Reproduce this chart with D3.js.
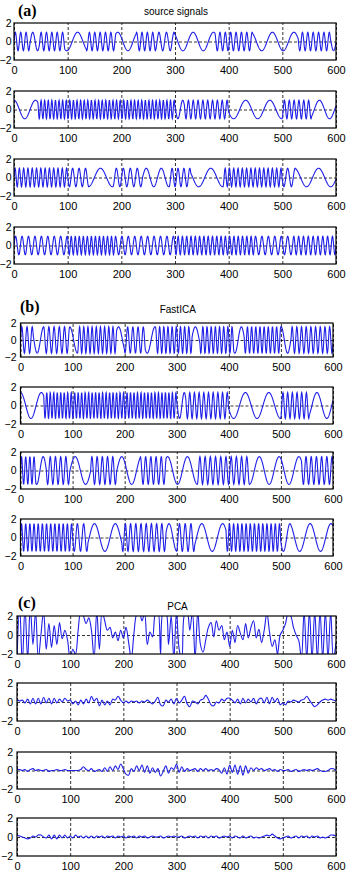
<!DOCTYPE html>
<html><head><meta charset="utf-8">
<script src="https://cdn.jsdelivr.net/npm/d3@7"></script>
<style>body{margin:0;background:#fff}</style>
</head><body>
<svg id="c" width="349" height="875"></svg>
<script>
// ---------- data ----------
const xTicks = [0,100,200,300,400,500,600];
const yTicks = [-2,0,2];
const panelLabels = ["(a)","(b)","(c)"];
const panelTitles = ["source signals","FastICA","PCA"];

// piecewise sinusoidal signals: [segment start, period]
const src1 = [[0,10],[30,18],[48,10],[95,40],[135,10],[190,38],[228,10],[265,14],[300,38],[375,10],[445,40],[530,10],[590,20]];
const src2 = [[0,40],[45,6.7],[300,18],[318,9],[400,45],[500,9],[555,38]];
const src3 = [[0,8],[100,12],[140,45],[185,13],[240,28],[290,11],[330,45],[390,8],[500,14],[525,45]];
const src4 = [[0,12],[100,7.5],[190,12],[300,8],[450,12],[520,9]];
const srcAmp = [1,1,1,1];
const srcPhase = [0,1.57,0,0];

const ica1 = [[0,10],[25,25],[45,10],[95,30],[110,8],[185,30],[200,10],[240,30],[260,8],[330,30],[345,8],[410,25],[430,8],[500,25],[520,9]];
const ica2 = [[0,40],[45,6.7],[300,18],[318,9],[400,45],[500,9],[555,38]];
const ica3 = [[0,8],[30,25],[50,10],[95,40],[135,10],[185,38],[230,10],[280,38],[340,10],[440,38],[540,10]];
const ica4 = [[0,8],[100,12],[130,40],[195,10],[280,30],[300,11],[335,40],[395,8],[500,25],[520,40]];
const icaAmp = [1.55,1.4,1.5,1.5];
const icaPhase = [0,1.57,0,0];

// PCA outputs, sampled every 5 samples (0..600)
const pcaStep = 5;
const pca1 = [-2.5,3,-3,3,-2.5,3,-1,2.5,-2.5,0,2.5,-1.5,1.2,-1.3,1,-1,1.3,-0.4,0.5,-0.5,
 -2.5,-1.5,-2,0.5,2.5,2,1.2,1.8,0.5,-2.5,2.5,-1.5,2.5,1.5,0.5,0.8,-0.3,0.3,-0.6,0.5,
 -0.3,0.8,-0.8,-2.5,0.2,2.2,2.5,1.5,2.3,-1,0.3,-0.2,2.2,2.5,-2,2.5,2.5,-1,2,-2.5,
 2.5,-1.5,-2.5,2.2,2.5,0.5,2.5,-2.5,2.5,-1,-1.8,-0.5,0.8,1.3,-0.2,1.5,0.5,1,-0.5,0.3,
 -1.2,0.5,-0.8,1,0.2,-0.5,1.2,-0.3,0.8,1.5,-0.3,0.6,-0.8,0.5,2.3,0.3,-1.2,-0.5,-2,0,
 0.5,1.2,2.3,2,0.8,0,-0.6,-2.5,2.5,-2.5,2.5,-2.5,2.5,-2.5,2.5,-2.5,2.5,-2.5,2.5,-2.5,-0.8];
const pca2 = [0.3,0.1,0.2,-0.1,0.3,-0.2,0.4,-0.2,0.4,-0.2,0.5,-0.1,0.4,-0.2,0.4,-0.1,0.3,0,0.4,0.1,
 0.2,-0.2,0.1,-0.3,0.2,-0.2,0.3,-0.1,0.6,0.1,0.4,-0.4,0.2,-0.3,0.1,-0.3,0.3,0.2,0.6,0.2,
 -0.1,0.1,-0.1,0.1,0,0.1,-0.1,0.1,0,0.2,0,-0.2,0.1,0.5,-0.3,-0.4,0.2,0,0.3,-0.2,
 0.4,-0.1,0.2,0.6,-0.2,-0.5,0.1,0,-0.2,0.2,0.3,0.7,0.3,-0.3,-0.4,0,-0.1,0.3,0.1,0.4,
 0.4,0.2,-0.1,0.3,-0.2,0.4,-0.1,0.3,0,0.4,-0.2,0.3,0.4,-0.1,0.5,-0.2,0.5,0,0.4,-0.3,
 -0.1,-0.3,0.1,0,0.2,0.1,0,0.2,0.3,0.6,0.2,-0.2,-0.5,-0.3,0,0.2,0.3,0.2,0.3,0.2,0.1];
const pca3 = [0.1,0.1,0,0.1,-0.1,0.1,0.2,0,0.1,0,0,0.1,-0.1,0,0,0.1,0,0,0.1,0,
 0,0,0,0,0.1,0.4,0.1,0,0.2,-0.1,0,0.1,-0.1,0.3,-0.1,0.4,0,0.5,0.1,0.7,
 0.2,-0.4,-0.5,0.2,-0.1,0.5,0,0.6,-0.2,0.5,-0.3,0.3,-0.2,0.2,-0.6,-0.1,0.5,-0.3,0.3,0.1,
 0.7,-0.2,0.4,-0.1,0.2,0,0.1,0.2,-0.1,0.2,0,0.2,0,0.1,0,0.2,0.1,-0.3,0.3,-0.4,
 0.6,-0.2,0.6,-0.4,0.5,-0.5,0.5,-0.3,0.3,0,0.3,0.1,0.2,0,0.1,0.2,0,0.1,-0.1,0.1,
 0,0,0.1,-0.1,0,0.1,-0.1,0,0.1,0,0.1,0,0.1,0.2,0,-0.1,-0.1,0,0.2,0.2,0];
const pca4 = [0.2,0.1,0,-0.1,-0.2,-0.1,0.1,0,0.2,0.2,0,-0.1,0.2,-0.2,0.2,-0.2,0.2,-0.1,0.2,-0.1,
 0.1,-0.1,0.2,0,0.1,-0.1,0.1,-0.1,0.1,-0.1,0.1,0,0.1,-0.1,0.1,0,0.1,-0.1,0.1,0,
 0.1,-0.1,0.1,0,0.1,-0.1,0.1,0,0.1,-0.1,0,0.1,0,0,0.1,-0.1,0,0.1,0,0.1,
 0,0,0.1,-0.1,0,0.1,0,0.1,-0.1,0.1,0,0.1,-0.1,0.1,0,0.1,-0.1,0,0.1,0,
 0.1,-0.1,0.1,0,-0.1,0.1,-0.1,0,0.1,-0.1,0,-0.1,0,0.1,0.2,0.1,0.3,0.1,-0.1,-0.2,
 -0.1,0,0.1,-0.1,0,0.1,-0.1,0.1,0,0.1,-0.1,0.1,0,0.1,-0.1,0,-0.1,0,0.2,0.2,0.1];

// ---------- build ----------
function sineSeries(segs, amp, ph0){
  const pts=[]; let ph=ph0, si=0;
  for(let i=0;i<=1200;i++){
    const t=i*0.5;
    while(si<segs.length-1 && t>=segs[si+1][0]) si++;
    if(i>0) ph += 2*Math.PI*0.5/segs[si][1];
    pts.push([t, amp*Math.sin(ph)]);
  }
  return pts;
}
function sampled(vals){ return vals.map((v,i)=>[i*pcaStep, v]); }

const series = [
  [src1,src2,src3,src4].map((s,i)=>({pts:sineSeries(s,srcAmp[i],srcPhase[i]), smooth:false})),
  [ica1,ica2,ica3,ica4].map((s,i)=>({pts:sineSeries(s,icaAmp[i],icaPhase[i]), smooth:false})),
  [pca1,pca2,pca3,pca4].map(v=>({pts:sampled(v), smooth:true}))
];

const layout = [
  {x0:14,  x1:336, tops:[23,91,159,227],  hs:[37,37,37,37], lx:18, ly:16,  ty:15, pad:2.5},
  {x0:20.5,x1:333, tops:[323,387,452,519],hs:[34,37,37,37], lx:20, ly:312, ty:313, pad:4},
  {x0:17,  x1:336, tops:[616,683,752,818],hs:[38,38,37,38], lx:18, ly:608, ty:610, pad:4}
];

const svg = d3.select("#c");
const FONT = "Liberation Sans, Arial, sans-serif";

layout.forEach((L,p)=>{
  const x = d3.scaleLinear().domain([0,600]).range([L.x0,L.x1]);
  svg.append("text").attr("x",L.lx).attr("y",L.ly)
    .attr("font-family","Liberation Serif, Times New Roman, serif").attr("font-weight","bold")
    .attr("font-size",16).text(panelLabels[p]);
  svg.append("text").attr("x",(L.x0+L.x1)/2+1).attr("y",L.ty)
    .attr("font-family",FONT).attr("font-size",10).attr("text-anchor","middle").text(panelTitles[p]);

  L.tops.forEach((top,k)=>{
    const h=L.hs[k];
    const y = d3.scaleLinear().domain([-2,2]).range([top+h, top]);
    const g = svg.append("g");
    const cid = `clip${p}${k}`;
    g.append("clipPath").attr("id",cid).append("rect")
      .attr("x",L.x0).attr("y",top).attr("width",L.x1-L.x0).attr("height",h);

    // grid
    const gx = g.append("g").attr("transform",`translate(0,${top+h})`)
      .call(d3.axisBottom(x).tickValues(xTicks).tickSize(-h).tickFormat(""));
    gx.select(".domain").remove();
    gx.selectAll("line").attr("stroke","#000").attr("stroke-dasharray","3,2").attr("stroke-width",0.8);
    const gy = g.append("g").attr("transform",`translate(${L.x0},0)`)
      .call(d3.axisLeft(y).tickValues([0]).tickSize(-(L.x1-L.x0)).tickFormat(""));
    gy.select(".domain").remove();
    gy.selectAll("line").attr("stroke","#000").attr("stroke-dasharray","3,2").attr("stroke-width",0.8);

    // signal
    const s = series[p][k];
    const line = d3.line().x(d=>x(d[0])).y(d=>y(d[1]));
    if(s.smooth) line.curve(d3.curveCatmullRom);
    g.append("path").attr("clip-path",`url(#${cid})`).attr("d",line(s.pts))
      .attr("fill","none").attr("stroke","#1f1fe8").attr("stroke-width",1.1);

    // box
    g.append("rect").attr("x",L.x0).attr("y",top).attr("width",L.x1-L.x0).attr("height",h)
      .attr("fill","none").attr("stroke","#000").attr("stroke-width",1.2);

    // tick labels
    const xl = g.append("g").attr("transform",`translate(0,${top+h})`)
      .call(d3.axisBottom(x).tickValues(xTicks).tickSize(0).tickPadding(0).tickFormat(d3.format("d")));
    xl.select(".domain").remove();
    xl.selectAll("text").attr("font-family",FONT).attr("font-size",11).attr("fill","#000")
      .attr("dy",null).attr("y",13.5);
    const yl = g.append("g").attr("transform",`translate(${L.x0},0)`)
      .call(d3.axisLeft(y).tickValues(yTicks).tickSize(0).tickPadding(L.pad).tickFormat(d3.format("d")));
    yl.select(".domain").remove();
    yl.selectAll("text").attr("font-family",FONT).attr("font-size",10.5).attr("fill","#000");
  });
});
</script>
</body></html>
